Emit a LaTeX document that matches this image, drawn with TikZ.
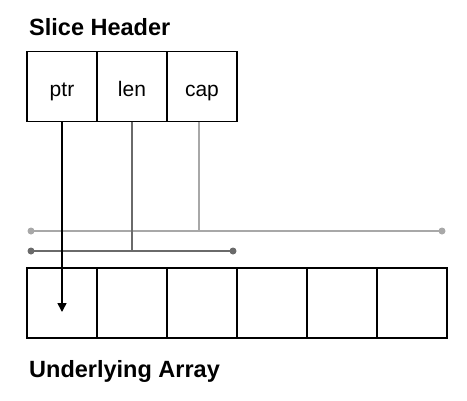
\documentclass[tikz,border=0pt]{standalone}
\usepackage{fontspec}
\setmainfont{Liberation Sans}
\usetikzlibrary{arrows.meta, positioning}

\definecolor{capgray}{HTML}{A8A8A8}
\definecolor{lengray}{HTML}{6A6A6A}

\begin{document}
\begin{tikzpicture}[
  x=1pt, y=-1pt,
  node distance=0pt,
  cell/.style={rectangle, draw, line width=1.6pt, minimum size=70pt, inner sep=0pt, outer sep=0pt,
    text height=20pt, text depth=0pt, font=\fontsize{21}{24}\selectfont},
  title/.style={anchor=base west, inner sep=0pt, font=\fontsize{23.5}{26}\selectfont\bfseries},
  capline/.style={draw=capgray, line width=1.6pt},
  lenline/.style={draw=lengray, line width=1.6pt},
  dot/.style={circle, fill, inner sep=0pt, minimum size=7pt}
]
\useasboundingbox (0,0) rectangle (467,400);

\node[title] (header) at (29,35) {Slice Header};
\node[title] (array) at (29,377) {Underlying Array};

% slice header fields
\node[cell] (ptr) at (62,86.5) {ptr};
\node[cell, right=of ptr] (len) {len};
\node[cell, right=of len] (cap) {cap};

% underlying array
\node[cell] (a1) at (62,303) {};
\node[cell, right=of a1] (a2) {};
\node[cell, right=of a2] (a3) {};
\node[cell, right=of a3] (a4) {};
\node[cell, right=of a4] (a5) {};
\node[cell, right=of a5] (a6) {};

% len and cap ranges
\coordinate (capL) at (31,231);
\coordinate (capR) at (442,231);
\coordinate (lenL) at (31,251);
\coordinate (lenR) at (233,251);

\draw[capline] (capL) -- (capR);
\draw[capline] ([xshift=-3pt]cap.south) -- ([xshift=-3pt]cap.south |- capL);
\node[dot, capgray] at (capL) {};
\node[dot, capgray] at (capR) {};

\draw[lenline] (lenL) -- (lenR);
\draw[lenline] (len.south) -- (len.south |- lenL);
\node[dot, lengray] at (lenL) {};
\node[dot, lengray] at (lenR) {};

% pointer into the array
\draw[-{Triangle[length=9pt, width=9pt]}, line width=1.6pt] (ptr.south) -- ([yshift=-9pt]a1.center);

\end{tikzpicture}
\end{document}
